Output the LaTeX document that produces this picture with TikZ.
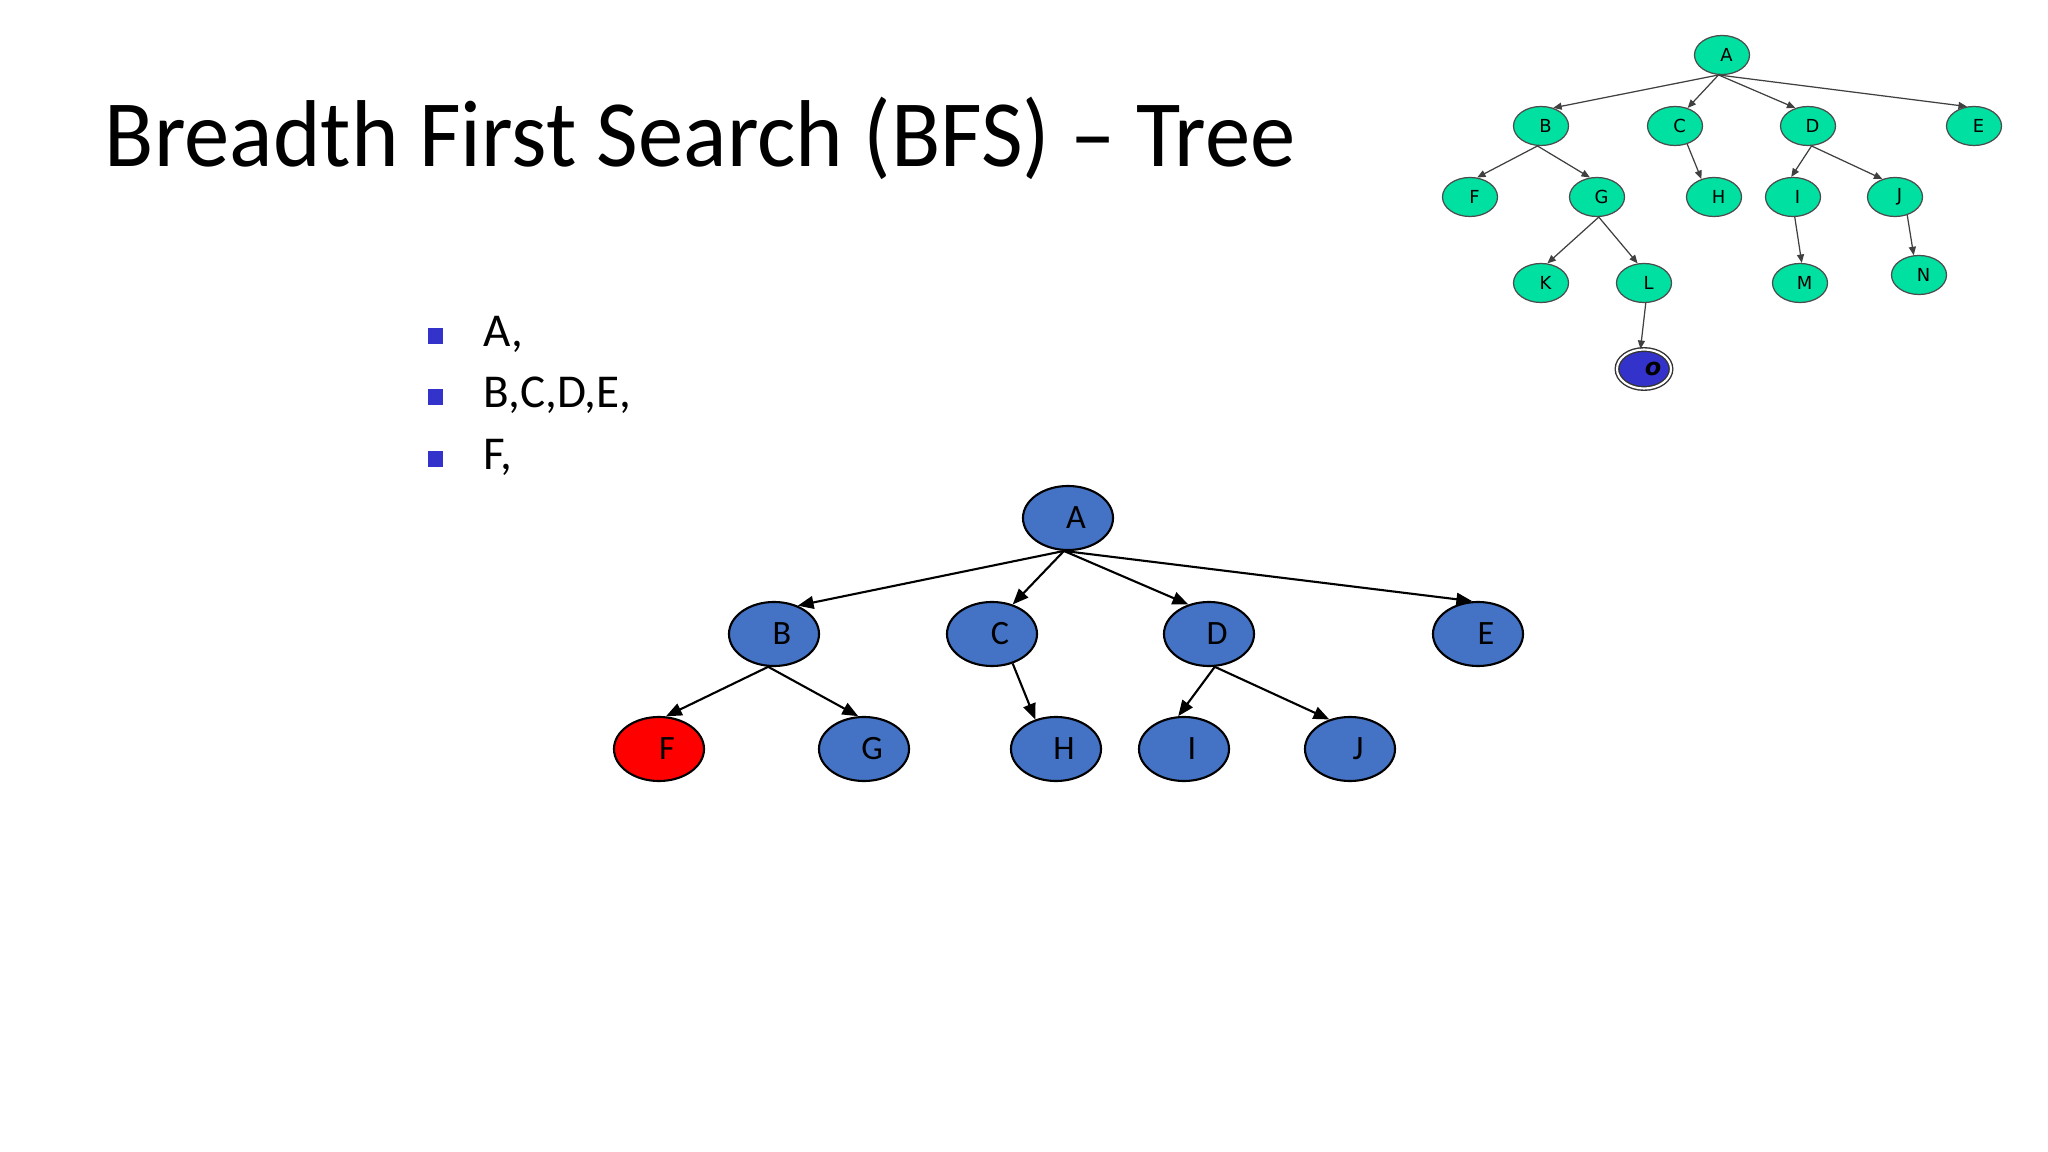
\documentclass[tikz,border=0pt]{standalone}
\usepackage{fontspec}
\setmainfont{Carlito}
\newfontfamily\smallfont{DejaVu Sans}
\usepackage{tikz}
\usetikzlibrary{shapes,arrows.meta}
\definecolor{nodeblue}{RGB}{68,114,196}
\definecolor{nodered}{RGB}{255,0,0}
\definecolor{nodegreen}{RGB}{0,224,160}
\definecolor{goalblue}{RGB}{51,51,204}
\tikzstyle{node_big} = [ellipse, draw, line width=0.6pt, fill=nodeblue, inner sep=0pt, minimum width=0.9cm, minimum height=0.64cm, font=\fontsize{9.7}{11}\selectfont, execute at begin node={\hspace{0.16cm}}]
\tikzstyle{node_small} = [ellipse, draw=black!70, line width=0.35pt, fill=nodegreen, inner sep=0pt, minimum width=0.55cm, minimum height=0.39cm, font=\smallfont\fontsize{5.1}{6}\selectfont, execute at begin node={\hspace{0.09cm}}]
\tikzstyle{node_goal} = [ellipse, draw=black!80, line width=0.4pt, double=white, double distance=0.6pt, fill=goalblue, inner sep=0pt, minimum width=0.54cm, minimum height=0.39cm, font=\smallfont\bfseries\itshape\fontsize{6.8}{8}\selectfont, execute at begin node={\hspace{0.18cm}}]
\tikzstyle{edge_big} = [line width=0.6pt, -{Triangle[length=4.5pt,width=3.6pt]}]
\tikzstyle{edge_small} = [line width=0.35pt, draw=black!75, -{Triangle[length=2.4pt,width=2pt]}]
\tikzstyle{bullet_sq} = [rectangle, fill=goalblue, inner sep=0pt, minimum size=0.15cm]
\tikzstyle{item_text} = [anchor=base west, inner sep=0pt, font=\fontsize{13.4}{16}\selectfont]

\begin{document}
\begin{tikzpicture}[x=0.01cm, y=-0.01cm]
			\path[fill=white] (0,0) rectangle (2048,1152);
			\useasboundingbox (0,0) rectangle (2048,1152);
			% title and list
			\node (title) at (104,167) [anchor=base west, inner sep=0pt, font=\fontsize{27}{32}\selectfont] {\scalebox{0.955}[1]{Breadth First Search (BFS) -- Tree}};
			\node (b1) at (435,336) [bullet_sq] {};
			\node (b2) at (435,397) [bullet_sq] {};
			\node (b3) at (435,459) [bullet_sq] {};
			\node (t1) at (483,347) [item_text] {A,};
			\node (t2) at (483,408) [item_text] {B,C,D,E,};
			\node (t3) at (483,470) [item_text] {F,};
			% search tree
			\node (A) at (1068,518) [node_big] {A};
			\node (B) at (774,634) [node_big] {B};
			\node (C) at (992,634) [node_big] {C};
			\node (D) at (1209,634) [node_big] {D};
			\node (E) at (1478,634) [node_big] {E};
			\node (F) at (659,749) [node_big, fill=nodered] {F};
			\node (G) at (864,749) [node_big] {G};
			\node (H) at (1056,749) [node_big] {H};
			\node (I) at (1184,749) [node_big] {I};
			\node (J) at (1350,749) [node_big] {J};
			\foreach \u/\v in {A.263/B.50, A.263/C.55, A.263/D.125, A.263/E.100, B.260/F.78, B.260/G.100, C.305/H.125, D.280/I.100, D.280/J.125}
				\draw[edge_big] (\u)--(\v);
			% full tree
			\node (sA) at (1722,55) [node_small] {A};
			\node (sB) at (1541,126) [node_small] {B};
			\node (sC) at (1675,126) [node_small] {C};
			\node (sD) at (1808,126) [node_small] {D};
			\node (sE) at (1974,126) [node_small] {E};
			\node (sF) at (1470,197) [node_small] {F};
			\node (sG) at (1597,197) [node_small] {G};
			\node (sH) at (1714,197) [node_small] {H};
			\node (sI) at (1793,197) [node_small] {I};
			\node (sJ) at (1895,197) [node_small] {J};
			\node (sK) at (1541,283) [node_small] {K};
			\node (sL) at (1644,283) [node_small] {L};
			\node (sM) at (1800,283) [node_small] {M};
			\node (sN) at (1919,275) [node_small] {N};
			\node (sO) at (1644,369) [node_goal] {o};
			\foreach \u/\v in {sA.260/sB.56, sA.260/sC.55, sA.260/sD.125, sA.260/sE.110, sB.260/sF.70, sB.260/sG.110, sC.304/sH.125, sD.280/sI.95, sD.280/sJ.125, sG.275/sK.72, sG.275/sL.108, sI.275/sM.85, sJ.304/sN.105, sL.275/sO.100}
				\draw[edge_small] (\u)--(\v);
		\end{tikzpicture}
\end{document}
